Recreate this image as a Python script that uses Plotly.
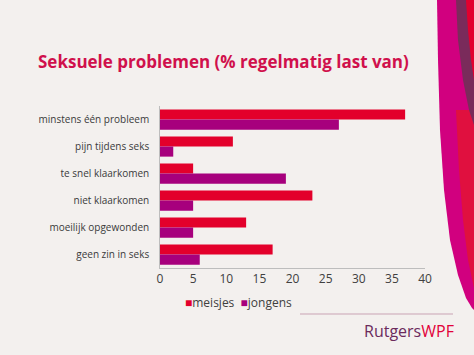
import plotly.graph_objects as go

categories = ["minstens één probleem", "pijn tijdens seks", "te snel klaarkomen",
              "niet klaarkomen", "moeilijk opgewonden", "geen zin in seks"]
meisjes = [37, 11, 5, 23, 13, 17]
jongens = [27, 2, 19, 5, 5, 6]
x_ticks = [0, 5, 10, 15, 20, 25, 30, 35, 40]

W, H = 474, 355
L, R, T, B = 160, 425, 106, 268

def px(x):
    return (x - L) / (R - L)

def py(y):
    return (B - y) / (B - T)

BG = "#F3F0EE"
RED = "#E3002B"
PURPLE = "#A7007D"
FONT = "Open Sans"

fig = go.Figure()
fig.add_trace(go.Bar(y=categories, x=meisjes, name="meisjes", orientation="h",
                     marker=dict(color=RED, line=dict(width=0))))
fig.add_trace(go.Bar(y=categories, x=jongens, name="jongens", orientation="h",
                     marker=dict(color=PURPLE, line=dict(width=0))))

def path(points, close=True):
    s = "M " + " L ".join(f"{px(a):.4f},{py(b):.4f}" for a, b in points)
    return s + (" Z" if close else "")

shapes = []
# decorative right band
magenta = [(437, 0), (438, 60), (440, 130), (444, 190), (450, 240), (458, 275), (466, 298), (472, 308), (474, 310), (474, 0)]
red2 = [(456, 110), (459, 170), (463, 220), (468, 260), (474, 288), (474, 110)]
darkp = [(456, 0), (458, 40), (463, 80), (469, 110), (474, 125), (474, 0)]
red = [(466, 0), (468, 30), (471, 60), (474, 80), (474, 0)]
for pts, col in [(magenta, "#D1007F"), (red2, "#E0103F"), (darkp, "#7A2B5B"), (red, "#E2002F")]:
    shapes.append(dict(type="path", xref="paper", yref="paper", path=path(pts),
                       fillcolor=col, line=dict(width=0), layer="below"))
# footer line
shapes.append(dict(type="line", xref="paper", yref="paper", x0=px(300), x1=px(453),
                   y0=py(314), y1=py(314), line=dict(color="#C9A3B4", width=1)))

legend_text = (f"<span style='color:{RED}'>■</span>meisjes  "
               f"<span style='color:{PURPLE}'>■</span>jongens")

fig.update_layout(
    width=W, height=H,
    margin=dict(l=L, r=W - R, t=T, b=H - B),
    paper_bgcolor=BG, plot_bgcolor=BG,
    barmode="group", bargap=0.25, bargroupgap=0,
    font=dict(family=FONT, size=10, color="#404040"),
    showlegend=False,
    xaxis=dict(range=[0, 40], tickvals=x_ticks, showgrid=False, zeroline=False,
               showline=True, linecolor="#BDBDBD", linewidth=1, ticks="",
               tickfont=dict(size=12, color="#404040"), fixedrange=True),
    yaxis=dict(autorange="reversed", showgrid=False, zeroline=False,
               showline=True, linecolor="#BDBDBD", linewidth=1, ticks="",
               ticksuffix="   ", tickfont=dict(size=10, color="#3A3A3A")),
    shapes=shapes,
    annotations=[
        dict(text="<b>Seksuele problemen (% regelmatig last van)</b>", xref="paper", yref="paper",
             x=px(223), y=py(62), xanchor="center", yanchor="middle", showarrow=False,
             font=dict(family=FONT, size=17, color="#D0104C")),
        dict(text=legend_text, xref="paper", yref="paper", x=px(183), y=py(302),
             xanchor="left", yanchor="middle", showarrow=False,
             font=dict(family=FONT, size=12, color="#404040")),
        dict(text="<span style='color:#6B2A5C'>Rutgers</span><span style='color:#E2003A'>WPF</span>",
             xref="paper", yref="paper", x=px(456), y=py(331), xanchor="right", yanchor="middle",
             showarrow=False, font=dict(family=FONT, size=16)),
    ],
)

fig.write_html("out.html", config={"displayModeBar": False},
               post_script="document.body.style.margin='0';document.body.style.overflow='hidden';"
                           "document.body.style.background='#F3F0EE';")
